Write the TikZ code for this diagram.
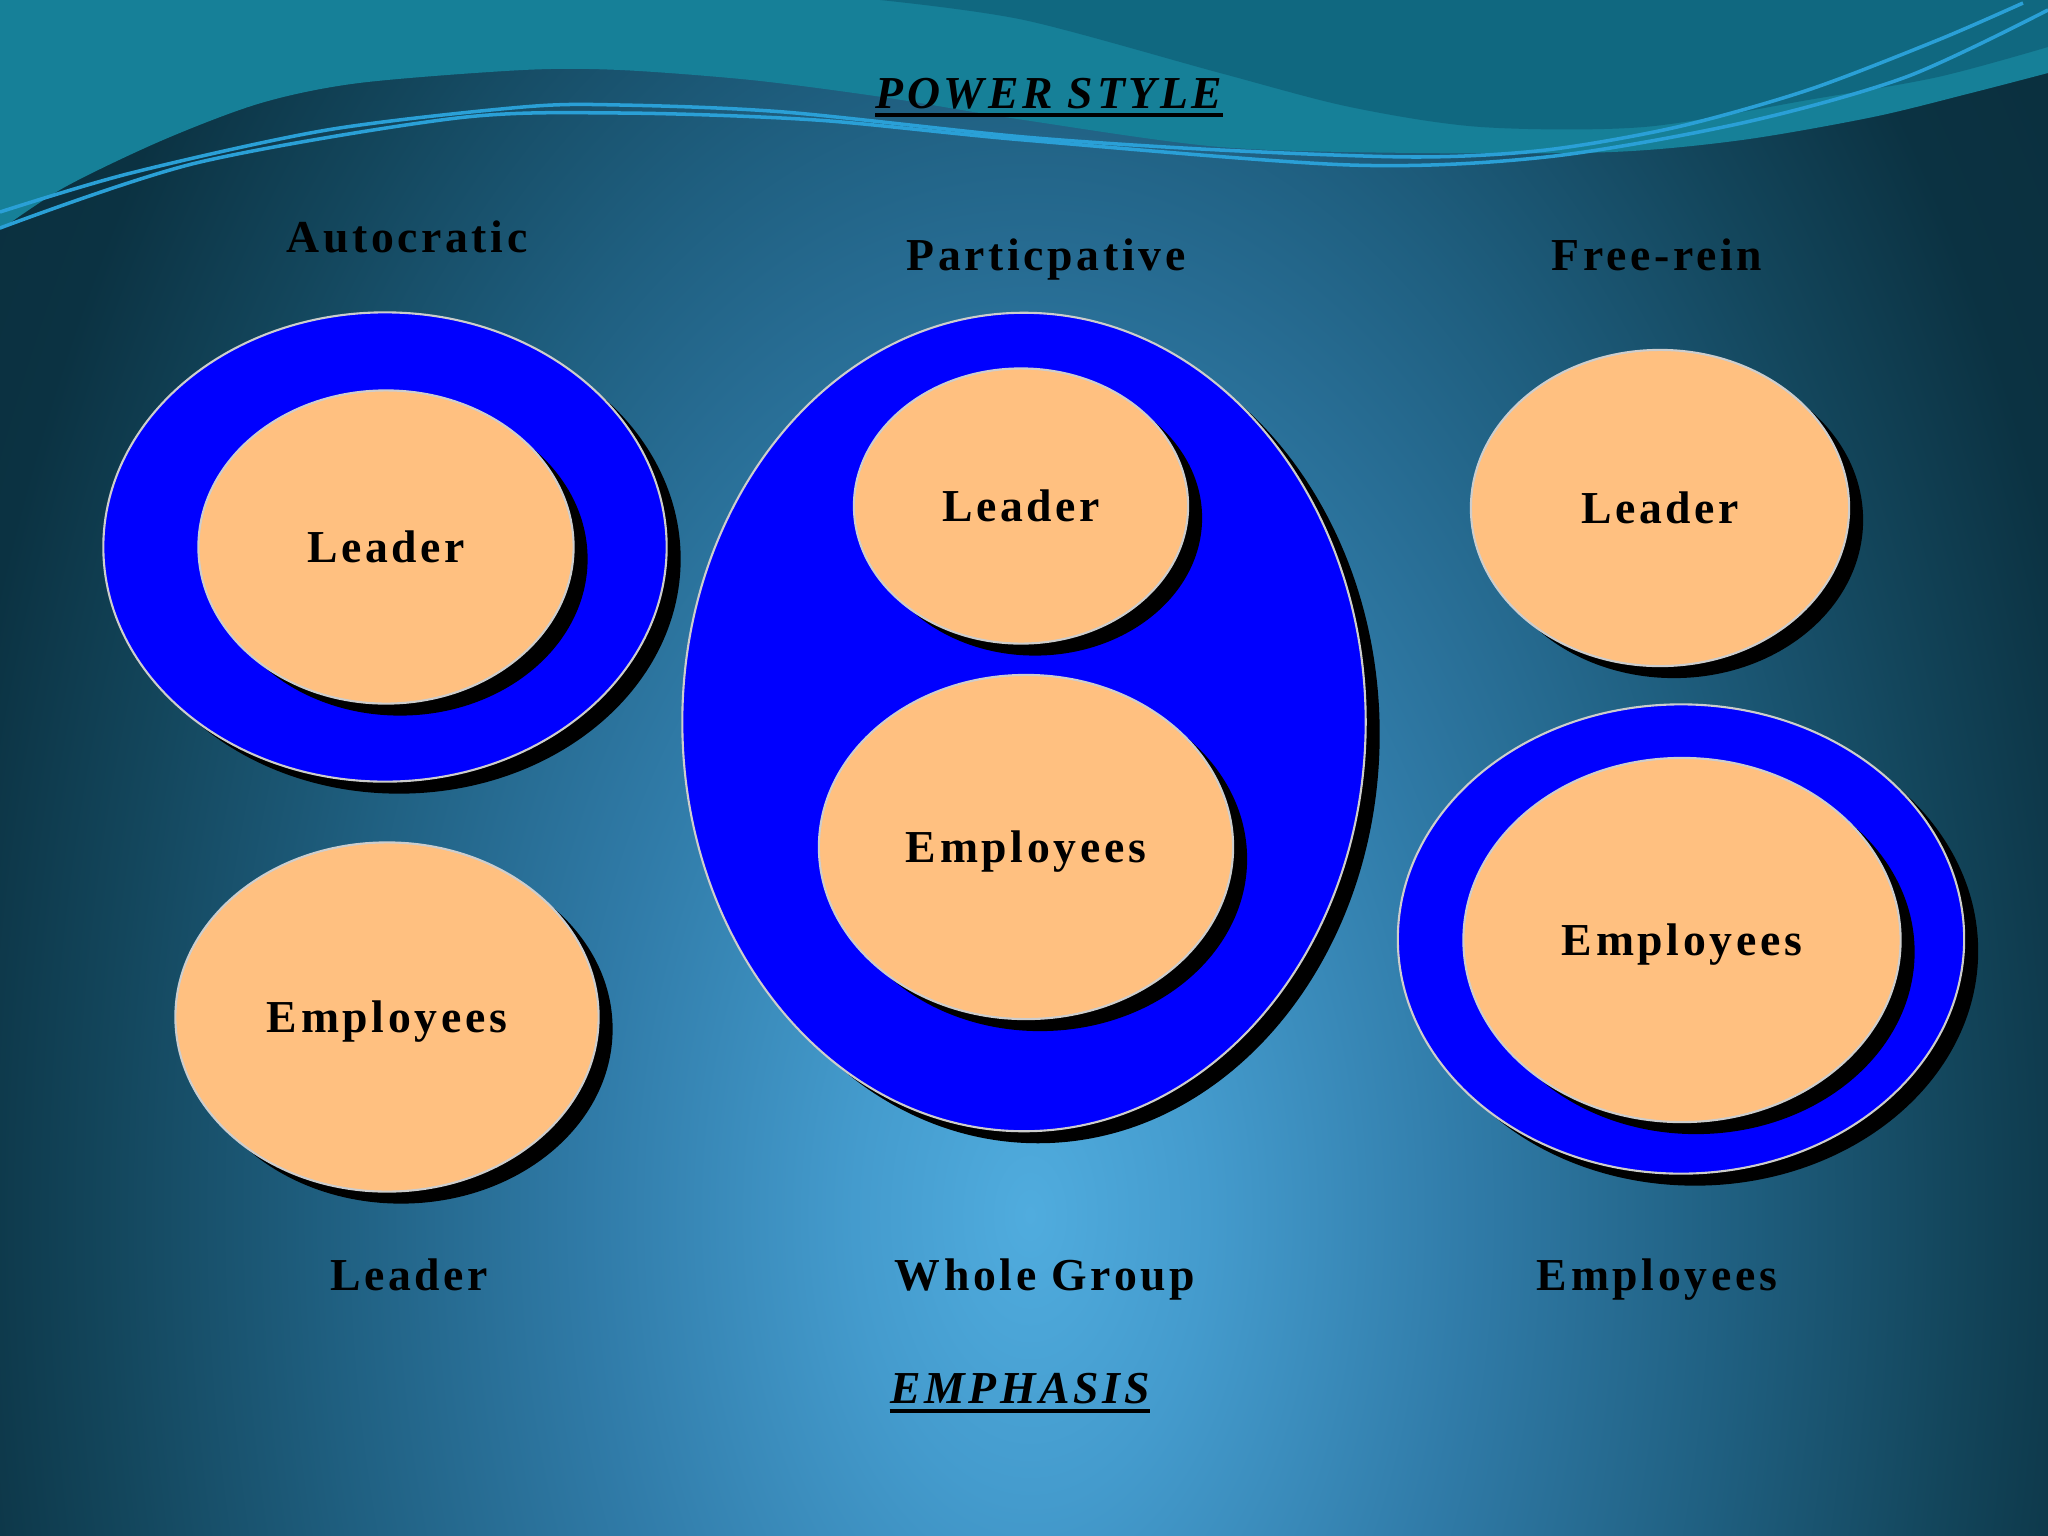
\documentclass[tikz,border=0pt]{standalone}
\usepackage{fontspec}
\setmainfont{Liberation Serif}
\newfontfamily\slidefont[LetterSpace=8]{Liberation Serif}
\usetikzlibrary{%
  shapes.geometric,%
  shadows%
}

\definecolor{ringblue}{RGB}{0,0,255}
\definecolor{peach}{RGB}{255,192,128}
\definecolor{rimgray}{RGB}{205,205,205}
\definecolor{glowA}{RGB}{80,172,222}
\definecolor{glowB}{RGB}{68,155,205}
\definecolor{glowC}{RGB}{48,123,168}
\definecolor{glowD}{RGB}{31,95,128}
\definecolor{glowE}{RGB}{19,70,92}
\definecolor{glowF}{RGB}{11,50,66}
\definecolor{glowG}{RGB}{8,40,52}
\definecolor{topteal}{RGB}{22,128,152}
\definecolor{topdeep}{RGB}{16,104,128}
\definecolor{wavelight}{RGB}{42,160,215}

\pgfdeclareradialshading{slidebg}{\pgfpoint{0bp}{0bp}}{%
  color(0bp)=(glowA); color(4bp)=(glowB); color(10bp)=(glowC);
  color(16bp)=(glowD); color(21bp)=(glowE); color(25bp)=(glowF);
  color(38bp)=(glowG)}

\newcommand\boxfont{\slidefont\fontsize{13pt}{15pt}\selectfont\bfseries}

\tikzset{
  ring/.style={ellipse, fill=ringblue, draw=rimgray, line width=0.6pt,
    inner sep=0pt, drop shadow={shadow xshift=0.14cm,
    shadow yshift=-0.12cm, fill=black, opacity=1}},
  disc/.style={ring, fill=peach, font=\boxfont, text depth=0pt},
  lbl/.style={anchor=base, inner sep=0pt, font=\boxfont},
  headline/.style={lbl, font=\boxfont\itshape},
  uline/.style={line width=1.2pt},
  wave/.style={wavelight, line width=1pt}
}

\begin{document}
\begin{tikzpicture}[x=0.01cm,y=-0.01cm]
  \useasboundingbox (0,0) rectangle (2048,1536);
  % background
  \begin{scope}
    \clip (0,0) rectangle (2048,1536);
    \shade[shading=slidebg] (-70,-585) rectangle (2130,3015);
    \fill[topteal] (0,0) -- plot[smooth] coordinates {(0,230) (65,187)
      (163,140) (261,103) (359,83) (523,70) (620,70) (751,80) (882,97)
      (1024,120) (1220,147) (1416,153) (1612,152) (1742,140) (1873,117)
      (1971,93) (2048,73)} -- (2048,0) -- cycle;
    \fill[topdeep] plot[smooth] coordinates {(880,0) (1024,20) (1220,73)
      (1350,107) (1481,127) (1644,127) (1808,100) (1938,77) (2048,47)}
      -- (2048,0) -- cycle;
    \draw[wave] plot[smooth] coordinates {(0,212) (131,173) (327,130)
      (523,107) (620,105) (784,112) (1024,137) (1220,150) (1416,157)
      (1546,150) (1677,127) (1808,90) (1938,40) (2023,3)};
    \draw[wave] plot[smooth] coordinates {(0,228) (196,163) (457,118)
      (620,113) (816,120) (1024,140) (1350,165) (1546,157) (1742,123)
      (1906,77) (2048,10)};
  \end{scope}

  % titles
  \node[headline] (title) at (1049,108) {POWER STYLE};
  \draw[uline] ([yshift=-0.07cm]title.base west) -- ([yshift=-0.07cm]title.base east);
  \node[headline] (emph) at (1020,1403) {EMPHASIS};
  \draw[uline] ([yshift=-0.08cm]emph.base west) -- ([yshift=-0.08cm]emph.base east);

  \node[lbl] (autohead) at (407,252) {Autocratic};
  \node[lbl] (parthead) at (1046,270) {Particpative};
  \node[lbl] (freehead) at (1657,270) {Free-rein};

  % autocratic
  \node[ring, minimum width=5.63cm, minimum height=4.69cm] (autoring) at (385,547) {};
  \node[disc, minimum width=3.75cm, minimum height=3.13cm] (autoleader) at (386,547) {Leader};
  \node[disc, minimum width=4.23cm, minimum height=3.49cm] (autoemp) at (387,1017) {Employees};

  % participative
  \node[ring, minimum width=6.83cm, minimum height=8.18cm] (partring) at (1024,722) {};
  \node[disc, minimum width=3.34cm, minimum height=2.75cm] (partleader) at (1021,506) {Leader};
  \node[disc, minimum width=4.14cm, minimum height=3.44cm] (partemp) at (1026,847) {Employees};

  % free-rein
  \node[disc, minimum width=3.78cm, minimum height=3.16cm] (freeleader) at (1660,508) {Leader};
  \node[ring, minimum width=5.66cm, minimum height=4.69cm] (freering) at (1681,939) {};
  \node[disc, minimum width=4.37cm, minimum height=3.64cm] (freeemp) at (1682,940) {Employees};

  \node[lbl] (autofocus) at (409,1290) {Leader};
  \node[lbl] (partfocus) at (1045,1290) {Whole Group};
  \node[lbl] (freefocus) at (1657,1290) {Employees};
\end{tikzpicture}
\end{document}
